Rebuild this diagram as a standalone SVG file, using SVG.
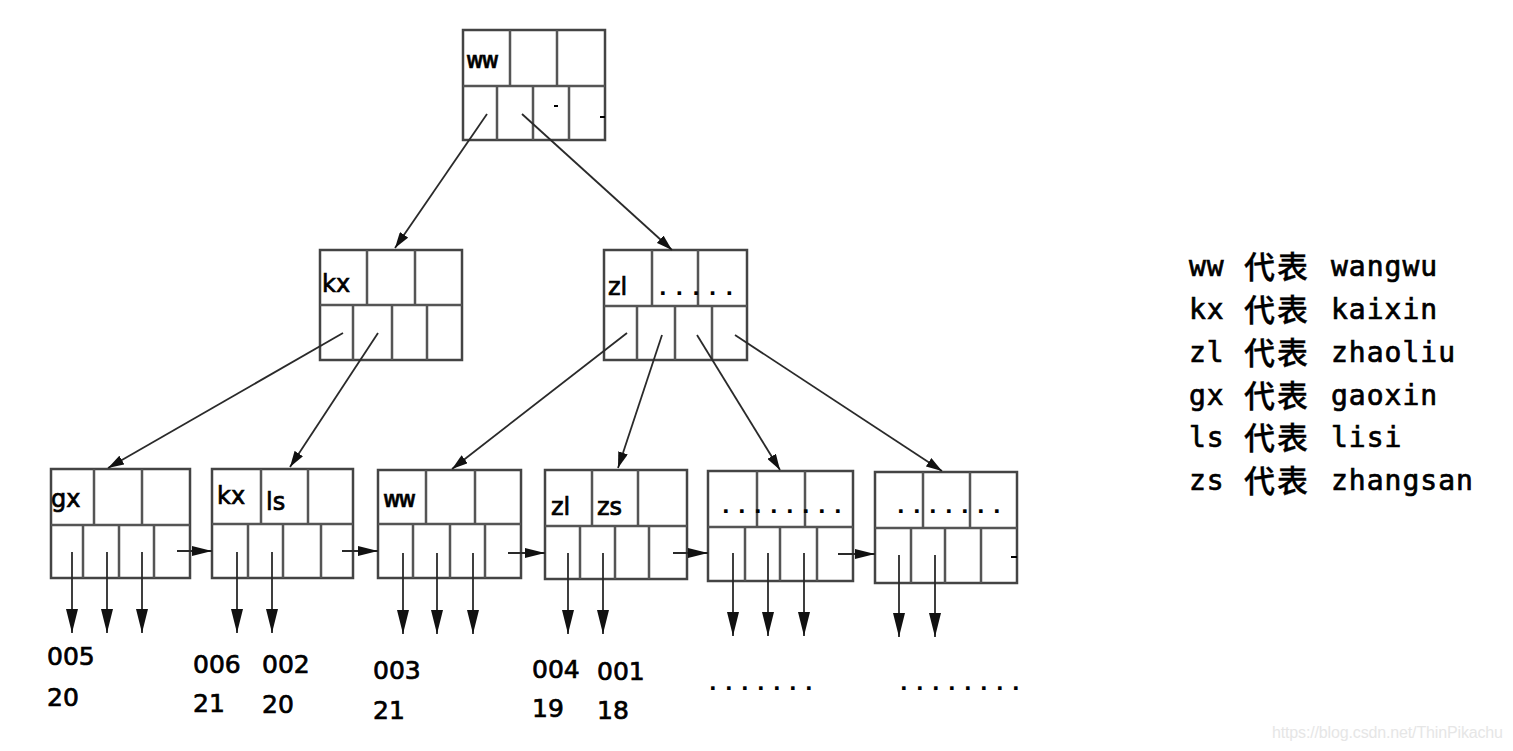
<svg xmlns="http://www.w3.org/2000/svg" width="1513" height="751" viewBox="0 0 1513 751">
<style>
.box{fill:#fff;stroke:#444;stroke-width:2.5}
.ln{stroke:#555;stroke-width:2.5;fill:none}
.cn{stroke:#2a2a2a;stroke-width:1.8;fill:none}
.lbl{font-family:"DejaVu Sans",sans-serif;font-size:24px;fill:#000;stroke:#000;stroke-width:0.7}
.bw{font-family:"Liberation Sans",sans-serif;font-weight:bold;font-size:23px;fill:#000;stroke:#000;stroke-width:0.6}
.dots{font-family:"DejaVu Sans",sans-serif;font-weight:bold;font-size:20px;fill:#000}
.num{font-family:"DejaVu Sans",sans-serif;font-size:25px;fill:#000;stroke:#000;stroke-width:0.7}
.lg{font-family:"DejaVu Sans Mono",monospace;font-size:28px;letter-spacing:1px;fill:#000;stroke:#000;stroke-width:0.7}
.cjk{font-family:"Noto Sans CJK SC",sans-serif;font-weight:500;font-size:31px;letter-spacing:2px;fill:#000;stroke:#000;stroke-width:0.3}
</style>
<defs>
<marker id="ah" markerUnits="userSpaceOnUse" markerWidth="16" markerHeight="10" refX="16" refY="5" orient="auto"><path d="M0,0 L16,5 L0,10 z" fill="#111"/></marker>
<marker id="hd" markerUnits="userSpaceOnUse" markerWidth="20" markerHeight="12" refX="20" refY="6" orient="auto"><path d="M0,1 L20,6 L0,11 z" fill="#111"/></marker>
<marker id="dn" markerUnits="userSpaceOnUse" markerWidth="24" markerHeight="12" refX="24" refY="6" orient="auto"><path d="M0,0 L24,6 L0,12 z" fill="#111"/></marker>
</defs>

<g id="root">
<rect class="box" x="463" y="30" width="142" height="110"/>
<path class="ln" d="M463,86 H605 M510,30 V86 M557,30 V86 M497,86 V140 M533,86 V140 M569,86 V140"/>
<path d="M600,117 H605 M554,106 H558" stroke="#000" stroke-width="2"/>
<text class="bw" x="467" y="68" textLength="31" lengthAdjust="spacingAndGlyphs">ww</text>
</g>

<g id="node-kx">
<rect class="box" x="320" y="250" width="142" height="110"/>
<path class="ln" d="M320,305 H462 M367,250 V305 M415,250 V305 M353,305 V360 M392,305 V360 M427,305 V360"/>
<text class="lbl" x="322" y="292">kx</text>
</g>

<g id="node-zl">
<rect class="box" x="604" y="250" width="143" height="110"/>
<path class="ln" d="M604,306 H747 M652,250 V306 M698,250 V306 M637,306 V360 M675,306 V360 M712,306 V360"/>
<text class="lbl" x="608" y="295">zl</text>
<text class="dots" x="659" y="295" letter-spacing="9">.....</text>
</g>

<g id="leaf1">
<rect class="box" x="51" y="469" width="139" height="109"/>
<path class="ln" d="M51,525 H190 M94,469 V525 M142,469 V525 M83,525 V578 M119,525 V578 M154,525 V578"/>
<text class="lbl" x="51" y="507" font-size="26">gx</text>
</g>

<g id="leaf2">
<rect class="box" x="212" y="469" width="141" height="109"/>
<path class="ln" d="M212,524 H353 M261,469 V524 M308,469 V524 M248,524 V578 M283,524 V578 M321,524 V578"/>
<text class="lbl" x="217" y="504" font-size="27">kx</text>
<text class="lbl" x="266" y="510" font-size="27">ls</text>
</g>

<g id="leaf3">
<rect class="box" x="378" y="470" width="143" height="108"/>
<path class="ln" d="M378,524 H521 M426,470 V524 M475,470 V524 M413,524 V578 M450,524 V578 M485,524 V578"/>
<text class="bw" x="384" y="507" font-size="25" textLength="31" lengthAdjust="spacingAndGlyphs">ww</text>
</g>

<g id="leaf4">
<rect class="box" x="545" y="470" width="142" height="109"/>
<path class="ln" d="M545,526 H687 M592,470 V526 M638,470 V526 M580,526 V579 M615,526 V579 M649,526 V579"/>
<text class="lbl" x="551" y="515" font-size="26">zl</text>
<text class="lbl" x="597" y="515" font-size="26">zs</text>
</g>

<g id="leaf5">
<rect class="box" x="708" y="471" width="145" height="110"/>
<path class="ln" d="M708,527 H853 M757,471 V527 M805,471 V527 M745,527 V581 M780,527 V581 M817,527 V581"/>
<text class="dots" x="722" y="513" letter-spacing="8.4">........</text>
</g>

<g id="leaf6">
<rect class="box" x="875" y="472" width="142" height="111"/>
<path class="ln" d="M875,528 H1017 M923,472 V528 M970,472 V528 M911,528 V583 M945,528 V583 M981,528 V583"/>
<path d="M1011,557 H1017" stroke="#000" stroke-width="2"/>
<text class="dots" x="897" y="513" letter-spacing="8.4">.......</text>
</g>

<g id="connectors">
<line class="cn" x1="487" y1="114" x2="395" y2="248" marker-end="url(#ah)"/>
<line class="cn" x1="522" y1="114" x2="672" y2="250" marker-end="url(#ah)"/>
<line class="cn" x1="343" y1="333" x2="108" y2="468" marker-end="url(#ah)"/>
<line class="cn" x1="378" y1="333" x2="290" y2="467" marker-end="url(#ah)"/>
<line class="cn" x1="627" y1="333" x2="452" y2="469" marker-end="url(#ah)"/>
<line class="cn" x1="662" y1="335" x2="618" y2="468" marker-end="url(#ah)"/>
<line class="cn" x1="697" y1="335" x2="780" y2="470" marker-end="url(#ah)"/>
<line class="cn" x1="735" y1="335" x2="942" y2="471" marker-end="url(#ah)"/>

<line class="cn" x1="177" y1="551" x2="212" y2="551" marker-end="url(#hd)"/>
<line class="cn" x1="342" y1="551" x2="378" y2="551" marker-end="url(#hd)"/>
<line class="cn" x1="508" y1="553" x2="545" y2="553" marker-end="url(#hd)"/>
<line class="cn" x1="673" y1="553" x2="708" y2="553" marker-end="url(#hd)"/>
<line class="cn" x1="838" y1="554" x2="875" y2="554" marker-end="url(#hd)"/>

<g class="cn">
<line x1="72" y1="552" x2="72" y2="633" marker-end="url(#dn)"/>
<line x1="107" y1="552" x2="107" y2="633" marker-end="url(#dn)"/>
<line x1="142" y1="552" x2="142" y2="633" marker-end="url(#dn)"/>
<line x1="237" y1="552" x2="237" y2="633" marker-end="url(#dn)"/>
<line x1="272" y1="552" x2="272" y2="633" marker-end="url(#dn)"/>
<line x1="403" y1="553" x2="403" y2="634" marker-end="url(#dn)"/>
<line x1="437" y1="553" x2="437" y2="634" marker-end="url(#dn)"/>
<line x1="473" y1="553" x2="473" y2="634" marker-end="url(#dn)"/>
<line x1="568" y1="553" x2="568" y2="634" marker-end="url(#dn)"/>
<line x1="603" y1="553" x2="603" y2="634" marker-end="url(#dn)"/>
<line x1="733" y1="553" x2="733" y2="636" marker-end="url(#dn)"/>
<line x1="768" y1="553" x2="768" y2="636" marker-end="url(#dn)"/>
<line x1="804" y1="553" x2="804" y2="636" marker-end="url(#dn)"/>
<line x1="899" y1="555" x2="899" y2="637" marker-end="url(#dn)"/>
<line x1="935" y1="555" x2="935" y2="637" marker-end="url(#dn)"/>
</g>
</g>

<g id="values">
<text class="num" x="47" y="665">005</text>
<text class="num" x="47" y="706">20</text>
<text class="num" x="193" y="673">006</text>
<text class="num" x="193" y="712">21</text>
<text class="num" x="262" y="673">002</text>
<text class="num" x="262" y="713">20</text>
<text class="num" x="373" y="679">003</text>
<text class="num" x="373" y="719">21</text>
<text class="num" x="532" y="678">004</text>
<text class="num" x="532" y="717">19</text>
<text class="num" x="597" y="680">001</text>
<text class="num" x="597" y="719">18</text>
<text class="dots" x="709" y="690" letter-spacing="8.4">.......</text>
<text class="dots" x="900" y="690" letter-spacing="8.4">........</text>
</g>

<g id="legend">
<text class="lg" x="1189" y="276">ww</text><text class="cjk" x="1244" y="278">代表</text><text class="lg" x="1331" y="276">wangwu</text>
<text class="lg" x="1189" y="319">kx</text><text class="cjk" x="1244" y="321">代表</text><text class="lg" x="1331" y="319">kaixin</text>
<text class="lg" x="1189" y="362">zl</text><text class="cjk" x="1244" y="364">代表</text><text class="lg" x="1331" y="362">zhaoliu</text>
<text class="lg" x="1189" y="405">gx</text><text class="cjk" x="1244" y="407">代表</text><text class="lg" x="1331" y="405">gaoxin</text>
<text class="lg" x="1189" y="447">ls</text><text class="cjk" x="1244" y="449">代表</text><text class="lg" x="1331" y="447">lisi</text>
<text class="lg" x="1189" y="490">zs</text><text class="cjk" x="1244" y="492">代表</text><text class="lg" x="1331" y="490">zhangsan</text>
</g>

<text x="1272" y="738" font-family="Liberation Sans, sans-serif" font-size="16" fill="#e6e6e6" textLength="231">https://blog.csdn.net/ThinPikachu</text>
</svg>
